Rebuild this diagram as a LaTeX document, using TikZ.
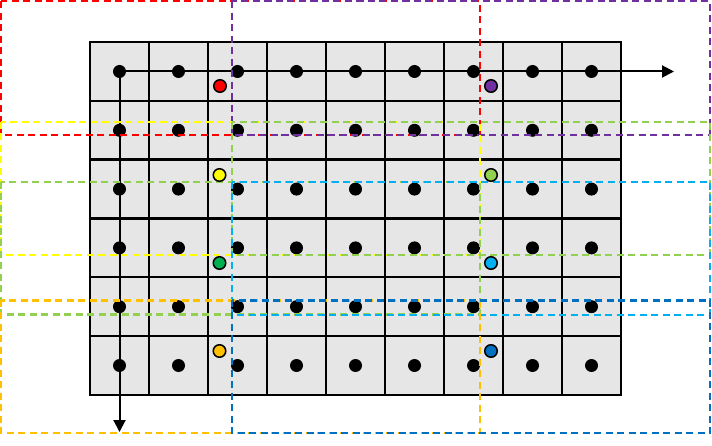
\documentclass[tikz,border=0pt]{standalone}
\usetikzlibrary{arrows.meta}
\definecolor{cellgray}{HTML}{E6E6E6}
\definecolor{winred}{HTML}{FF0000}
\definecolor{winpurple}{HTML}{7030A0}
\definecolor{winyellow}{HTML}{FFFF00}
\definecolor{winlime}{HTML}{92D050}
\definecolor{wingreen}{HTML}{00B050}
\definecolor{wincyan}{HTML}{00B0F0}
\definecolor{winorange}{HTML}{FFC000}
\definecolor{winblue}{HTML}{0070C0}

\begin{document}
\begin{tikzpicture}[x=1pt,y=-1pt]
    \tikzstyle cellline=[line width=2.3pt,black]
    \tikzstyle site=[circle,fill=black,inner sep=0pt,minimum size=13pt]
    \tikzstyle centre=[circle,draw=black,line width=1.5pt,inner sep=0pt,minimum size=12.5pt]
    \tikzstyle window=[line width=2.3pt,dash pattern=on 7pt off 4.5pt]
    \tikzstyle axis=[line width=2pt,black,-{Triangle[length=12pt,width=12pt]}]
    \useasboundingbox (0,0) rectangle (712,446);
    % lattice of cells
    \fill[cellgray] (90,42) rectangle (621,395);
    \foreach \i in {1,...,8}
      \draw[cellline] (90+59*\i,42) -- (90+59*\i,395);
    \foreach \j in {1,...,5}
      \draw[cellline] (90,42+58.8*\j) -- (621,42+58.8*\j);
    \draw[cellline] (90,42) rectangle (621,395);
    % axes from the first site
    \coordinate (o) at (119.5,71.5);
    \coordinate (xend) at (674,71.5);
    \coordinate (yend) at (119.5,432);
    \draw[axis] (o) -- (xend);
    \draw[axis] (o) -- (yend);
    % lattice sites
    \foreach \i in {0,...,8}
      \foreach \j in {0,...,5}
        \node[site] (d-\i-\j) at (119.5+59*\i,71.5+58.8*\j) {};
    % windows
    \draw[window,winred] (1.2,1.2) rectangle (480,135);
    \draw[window,winpurple] (232,1.2) rectangle (710,135);
    \draw[window,winyellow] (1.2,122) rectangle (480,255);
    \draw[window,winlime] (232,122) rectangle (710,255);
    \draw[window,winlime] (1.2,182) rectangle (480,314.5);
    \draw[window,wincyan] (232,182) rectangle (710,315);
    \draw[window,winorange] (1.2,300.5) rectangle (480,433);
    \draw[window,winblue] (232,300.5) rectangle (710,433);
    % window centres
    \node[centre,fill=winred] (c-red) at (220,86) {};
    \node[centre,fill=winpurple] (c-purple) at (491,86) {};
    \node[centre,fill=winyellow] (c-yellow) at (219.5,175) {};
    \node[centre,fill=winlime] (c-lime) at (491,175) {};
    \node[centre,fill=wingreen] (c-green) at (219.5,263) {};
    \node[centre,fill=wincyan] (c-cyan) at (491,263) {};
    \node[centre,fill=winorange] (c-orange) at (219.5,351) {};
    \node[centre,fill=winblue] (c-blue) at (491,351) {};
\end{tikzpicture}
\end{document}
